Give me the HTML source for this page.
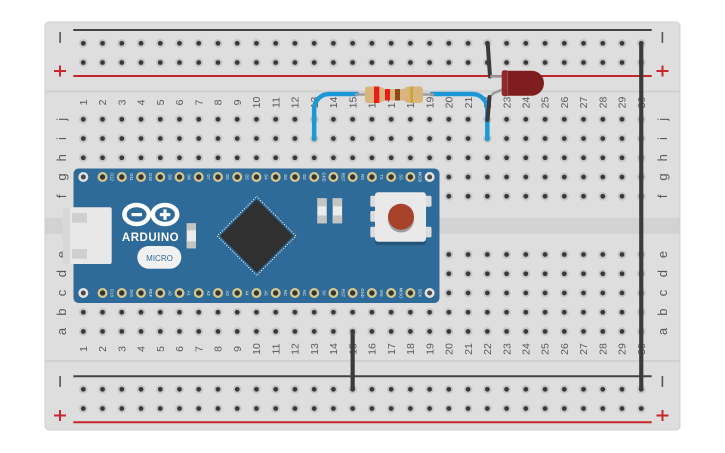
<!DOCTYPE html>
<html><head><meta charset="utf-8"><style>
html,body{margin:0;padding:0;background:#fff;width:725px;height:453px;overflow:hidden}
svg{display:block}
.n{font-family:"Liberation Sans",sans-serif;font-size:10.5px;fill:#5a5a5a;text-anchor:middle}
.l{font-family:"Liberation Sans",sans-serif;font-size:13px;fill:#5a5a5a;text-anchor:middle}
.p{font-family:"Liberation Sans",sans-serif;font-size:4.2px;fill:#e8eef4;text-anchor:middle}
</style></head><body>
<svg width="725" height="453" viewBox="0 0 725 453" xmlns="http://www.w3.org/2000/svg">
<defs>
<pattern id="hp" patternUnits="userSpaceOnUse" x="73.68" y="0" width="19.24" height="19.24">
<circle cx="9.62" cy="9.62" r="4.3" fill="#c6c6c6"/><circle cx="9.62" cy="9.62" r="2.4" fill="#383838"/>
</pattern>
</defs>
<!-- board -->
<rect x="45" y="22" width="635" height="408" rx="4" fill="#dedede" stroke="#cfcfcf"/>
<rect x="45.5" y="218" width="634" height="16" fill="#d2d2d2"/>
<rect x="45.5" y="90.5" width="634" height="2" fill="#d0d0d0"/>
<rect x="45.5" y="360" width="634" height="2" fill="#d0d0d0"/>
<!-- rail lines -->
<line x1="73.3" y1="30" x2="651.7" y2="30" stroke="#444" stroke-width="2"/>
<line x1="73.3" y1="76" x2="651.7" y2="76" stroke="#c3262b" stroke-width="2"/>
<line x1="73.3" y1="376.3" x2="651.7" y2="376.3" stroke="#444" stroke-width="2"/>
<line x1="73.3" y1="422.3" x2="651.7" y2="422.3" stroke="#c3262b" stroke-width="2"/>
<!-- rail signs -->
<rect x="59.3" y="32" width="1.6" height="11" fill="#555"/>
<rect x="661.6" y="32" width="1.6" height="11" fill="#555"/>
<rect x="59.3" y="376" width="1.6" height="11" fill="#555"/>
<rect x="661.6" y="376" width="1.6" height="11" fill="#555"/>
<g stroke="#c8282d" stroke-width="2">
<line x1="54" y1="71" x2="66" y2="71"/><line x1="60" y1="65.5" x2="60" y2="76.5"/>
<line x1="656.5" y1="71" x2="668.5" y2="71"/><line x1="662.5" y1="65.5" x2="662.5" y2="76.5"/>
<line x1="54" y1="415.5" x2="66" y2="415.5"/><line x1="60" y1="410" x2="60" y2="421"/>
<line x1="656.5" y1="415.5" x2="668.5" y2="415.5"/><line x1="662.5" y1="410" x2="662.5" y2="421"/>
</g>
<!-- holes -->
<g transform="translate(0,33.68)"><rect x="73.68" y="0" width="577.2" height="38.48" fill="url(#hp)"/></g>
<g transform="translate(0,109.68)"><rect x="73.68" y="0" width="577.2" height="96.2" fill="url(#hp)"/></g>
<g transform="translate(0,244.88)"><rect x="73.68" y="0" width="577.2" height="96.2" fill="url(#hp)"/></g>
<g transform="translate(0,379.68)"><rect x="73.68" y="0" width="577.2" height="38.48" fill="url(#hp)"/></g>
<!-- column numbers top -->
<g class="n">
<text transform="translate(83.3,102.5) rotate(-90)" dy="0.35em">1</text>
<text transform="translate(102.54,102.5) rotate(-90)" dy="0.35em">2</text>
<text transform="translate(121.78,102.5) rotate(-90)" dy="0.35em">3</text>
<text transform="translate(141.02,102.5) rotate(-90)" dy="0.35em">4</text>
<text transform="translate(160.26,102.5) rotate(-90)" dy="0.35em">5</text>
<text transform="translate(179.5,102.5) rotate(-90)" dy="0.35em">6</text>
<text transform="translate(198.74,102.5) rotate(-90)" dy="0.35em">7</text>
<text transform="translate(217.98,102.5) rotate(-90)" dy="0.35em">8</text>
<text transform="translate(237.22,102.5) rotate(-90)" dy="0.35em">9</text>
<text transform="translate(256.46,102.5) rotate(-90)" dy="0.35em">10</text>
<text transform="translate(275.7,102.5) rotate(-90)" dy="0.35em">11</text>
<text transform="translate(294.94,102.5) rotate(-90)" dy="0.35em">12</text>
<text transform="translate(314.18,102.5) rotate(-90)" dy="0.35em">13</text>
<text transform="translate(333.42,102.5) rotate(-90)" dy="0.35em">14</text>
<text transform="translate(352.66,102.5) rotate(-90)" dy="0.35em">15</text>
<text transform="translate(371.9,102.5) rotate(-90)" dy="0.35em">16</text>
<text transform="translate(391.14,102.5) rotate(-90)" dy="0.35em">17</text>
<text transform="translate(410.38,102.5) rotate(-90)" dy="0.35em">18</text>
<text transform="translate(429.62,102.5) rotate(-90)" dy="0.35em">19</text>
<text transform="translate(448.86,102.5) rotate(-90)" dy="0.35em">20</text>
<text transform="translate(468.1,102.5) rotate(-90)" dy="0.35em">21</text>
<text transform="translate(487.34,102.5) rotate(-90)" dy="0.35em">22</text>
<text transform="translate(506.58,102.5) rotate(-90)" dy="0.35em">23</text>
<text transform="translate(525.82,102.5) rotate(-90)" dy="0.35em">24</text>
<text transform="translate(545.06,102.5) rotate(-90)" dy="0.35em">25</text>
<text transform="translate(564.3,102.5) rotate(-90)" dy="0.35em">26</text>
<text transform="translate(583.54,102.5) rotate(-90)" dy="0.35em">27</text>
<text transform="translate(602.78,102.5) rotate(-90)" dy="0.35em">28</text>
<text transform="translate(622.02,102.5) rotate(-90)" dy="0.35em">29</text>
<text transform="translate(641.26,102.5) rotate(-90)" dy="0.35em">30</text>
</g>
<!-- column numbers bottom -->
<g class="n">
<text transform="translate(83.3,349) rotate(-90)" dy="0.35em">1</text>
<text transform="translate(102.54,349) rotate(-90)" dy="0.35em">2</text>
<text transform="translate(121.78,349) rotate(-90)" dy="0.35em">3</text>
<text transform="translate(141.02,349) rotate(-90)" dy="0.35em">4</text>
<text transform="translate(160.26,349) rotate(-90)" dy="0.35em">5</text>
<text transform="translate(179.5,349) rotate(-90)" dy="0.35em">6</text>
<text transform="translate(198.74,349) rotate(-90)" dy="0.35em">7</text>
<text transform="translate(217.98,349) rotate(-90)" dy="0.35em">8</text>
<text transform="translate(237.22,349) rotate(-90)" dy="0.35em">9</text>
<text transform="translate(256.46,349) rotate(-90)" dy="0.35em">10</text>
<text transform="translate(275.7,349) rotate(-90)" dy="0.35em">11</text>
<text transform="translate(294.94,349) rotate(-90)" dy="0.35em">12</text>
<text transform="translate(314.18,349) rotate(-90)" dy="0.35em">13</text>
<text transform="translate(333.42,349) rotate(-90)" dy="0.35em">14</text>
<text transform="translate(352.66,349) rotate(-90)" dy="0.35em">15</text>
<text transform="translate(371.9,349) rotate(-90)" dy="0.35em">16</text>
<text transform="translate(391.14,349) rotate(-90)" dy="0.35em">17</text>
<text transform="translate(410.38,349) rotate(-90)" dy="0.35em">18</text>
<text transform="translate(429.62,349) rotate(-90)" dy="0.35em">19</text>
<text transform="translate(448.86,349) rotate(-90)" dy="0.35em">20</text>
<text transform="translate(468.1,349) rotate(-90)" dy="0.35em">21</text>
<text transform="translate(487.34,349) rotate(-90)" dy="0.35em">22</text>
<text transform="translate(506.58,349) rotate(-90)" dy="0.35em">23</text>
<text transform="translate(525.82,349) rotate(-90)" dy="0.35em">24</text>
<text transform="translate(545.06,349) rotate(-90)" dy="0.35em">25</text>
<text transform="translate(564.3,349) rotate(-90)" dy="0.35em">26</text>
<text transform="translate(583.54,349) rotate(-90)" dy="0.35em">27</text>
<text transform="translate(602.78,349) rotate(-90)" dy="0.35em">28</text>
<text transform="translate(622.02,349) rotate(-90)" dy="0.35em">29</text>
<text transform="translate(641.26,349) rotate(-90)" dy="0.35em">30</text>
</g>
<!-- row letters -->
<g class="l">
<text transform="translate(66,119.3) rotate(-90)">j</text>
<text transform="translate(66,138.5) rotate(-90)">i</text>
<text transform="translate(66,157.8) rotate(-90)">h</text>
<text transform="translate(66,177) rotate(-90)">g</text>
<text transform="translate(66,196.3) rotate(-90)">f</text>
<text transform="translate(66,254.5) rotate(-90)">e</text>
<text transform="translate(66,273.7) rotate(-90)">d</text>
<text transform="translate(66,293) rotate(-90)">c</text>
<text transform="translate(66,312.2) rotate(-90)">b</text>
<text transform="translate(66,331.5) rotate(-90)">a</text>
<text transform="translate(667,119.3) rotate(-90)">j</text>
<text transform="translate(667,138.5) rotate(-90)">i</text>
<text transform="translate(667,157.8) rotate(-90)">h</text>
<text transform="translate(667,177) rotate(-90)">g</text>
<text transform="translate(667,196.3) rotate(-90)">f</text>
<text transform="translate(667,254.5) rotate(-90)">e</text>
<text transform="translate(667,273.7) rotate(-90)">d</text>
<text transform="translate(667,293) rotate(-90)">c</text>
<text transform="translate(667,312.2) rotate(-90)">b</text>
<text transform="translate(667,331.5) rotate(-90)">a</text>
</g>
<!-- Arduino Micro -->
<rect x="73.5" y="168.5" width="366" height="134.5" rx="5" fill="#2f6b98"/>
<!-- pins -->
<g>
<circle cx="83.3" cy="177" r="5" fill="#e2e2e2"/><circle cx="83.3" cy="177" r="2.5" fill="#4a4a4a"/>
<circle cx="429.62" cy="177" r="5" fill="#e2e2e2"/><circle cx="429.62" cy="177" r="2.5" fill="#4a4a4a"/>
<circle cx="83.3" cy="293" r="5" fill="#e2e2e2"/><circle cx="83.3" cy="293" r="2.5" fill="#4a4a4a"/>
<circle cx="429.62" cy="293" r="5" fill="#e2e2e2"/><circle cx="429.62" cy="293" r="2.5" fill="#4a4a4a"/>
</g>
<g fill="#d4c68f">
<circle cx="102.54" cy="177" r="5"/><circle cx="121.78" cy="177" r="5"/><circle cx="141.02" cy="177" r="5"/><circle cx="160.26" cy="177" r="5"/><circle cx="179.5" cy="177" r="5"/><circle cx="198.74" cy="177" r="5"/><circle cx="217.98" cy="177" r="5"/><circle cx="237.22" cy="177" r="5"/><circle cx="256.46" cy="177" r="5"/><circle cx="275.7" cy="177" r="5"/><circle cx="294.94" cy="177" r="5"/><circle cx="314.18" cy="177" r="5"/><circle cx="333.42" cy="177" r="5"/><circle cx="352.66" cy="177" r="5"/><circle cx="371.9" cy="177" r="5"/><circle cx="391.14" cy="177" r="5"/><circle cx="410.38" cy="177" r="5"/>
<circle cx="102.54" cy="293" r="5"/><circle cx="121.78" cy="293" r="5"/><circle cx="141.02" cy="293" r="5"/><circle cx="160.26" cy="293" r="5"/><circle cx="179.5" cy="293" r="5"/><circle cx="198.74" cy="293" r="5"/><circle cx="217.98" cy="293" r="5"/><circle cx="237.22" cy="293" r="5"/><circle cx="256.46" cy="293" r="5"/><circle cx="275.7" cy="293" r="5"/><circle cx="294.94" cy="293" r="5"/><circle cx="314.18" cy="293" r="5"/><circle cx="333.42" cy="293" r="5"/><circle cx="352.66" cy="293" r="5"/><circle cx="371.9" cy="293" r="5"/><circle cx="391.14" cy="293" r="5"/><circle cx="410.38" cy="293" r="5"/>
</g>
<g fill="#333">
<circle cx="102.54" cy="177" r="2.7"/><circle cx="121.78" cy="177" r="2.7"/><circle cx="141.02" cy="177" r="2.7"/><circle cx="160.26" cy="177" r="2.7"/><circle cx="179.5" cy="177" r="2.7"/><circle cx="198.74" cy="177" r="2.7"/><circle cx="217.98" cy="177" r="2.7"/><circle cx="237.22" cy="177" r="2.7"/><circle cx="256.46" cy="177" r="2.7"/><circle cx="275.7" cy="177" r="2.7"/><circle cx="294.94" cy="177" r="2.7"/><circle cx="314.18" cy="177" r="2.7"/><circle cx="333.42" cy="177" r="2.7"/><circle cx="352.66" cy="177" r="2.7"/><circle cx="371.9" cy="177" r="2.7"/><circle cx="391.14" cy="177" r="2.7"/><circle cx="410.38" cy="177" r="2.7"/>
<circle cx="102.54" cy="293" r="2.7"/><circle cx="121.78" cy="293" r="2.7"/><circle cx="141.02" cy="293" r="2.7"/><circle cx="160.26" cy="293" r="2.7"/><circle cx="179.5" cy="293" r="2.7"/><circle cx="198.74" cy="293" r="2.7"/><circle cx="217.98" cy="293" r="2.7"/><circle cx="237.22" cy="293" r="2.7"/><circle cx="256.46" cy="293" r="2.7"/><circle cx="275.7" cy="293" r="2.7"/><circle cx="294.94" cy="293" r="2.7"/><circle cx="314.18" cy="293" r="2.7"/><circle cx="333.42" cy="293" r="2.7"/><circle cx="352.66" cy="293" r="2.7"/><circle cx="371.9" cy="293" r="2.7"/><circle cx="391.14" cy="293" r="2.7"/><circle cx="410.38" cy="293" r="2.7"/>
</g>
<!-- pin labels -->
<g class="p">
<text transform="translate(112.16,177) rotate(90)" dy="0.35em">D12</text>
<text transform="translate(131.4,177) rotate(90)" dy="0.35em">D11</text>
<text transform="translate(150.64,177) rotate(90)" dy="0.35em">D10</text>
<text transform="translate(169.88,177) rotate(90)" dy="0.35em">D9</text>
<text transform="translate(189.12,177) rotate(90)" dy="0.35em">D8</text>
<text transform="translate(208.36,177) rotate(90)" dy="0.35em">D7</text>
<text transform="translate(227.6,177) rotate(90)" dy="0.35em">D6</text>
<text transform="translate(246.84,177) rotate(90)" dy="0.35em">D5</text>
<text transform="translate(266.08,177) rotate(90)" dy="0.35em">D4</text>
<text transform="translate(285.32,177) rotate(90)" dy="0.35em">D3</text>
<text transform="translate(304.56,177) rotate(90)" dy="0.35em">D2</text>
<text transform="translate(323.8,177) rotate(90)" dy="0.35em">GND</text>
<text transform="translate(343.04,177) rotate(90)" dy="0.35em">RST</text>
<text transform="translate(362.28,177) rotate(90)" dy="0.35em">RX</text>
<text transform="translate(381.52,177) rotate(90)" dy="0.35em">TX</text>
<text transform="translate(400.76,177) rotate(90)" dy="0.35em">SS</text>
<text transform="translate(420,177) rotate(90)" dy="0.35em">MOSI</text>
<text transform="translate(112.16,293) rotate(90)" dy="0.35em">D13</text>
<text transform="translate(131.4,293) rotate(90)" dy="0.35em">3V3</text>
<text transform="translate(150.64,293) rotate(90)" dy="0.35em">REF</text>
<text transform="translate(169.88,293) rotate(90)" dy="0.35em">A0</text>
<text transform="translate(189.12,293) rotate(90)" dy="0.35em">A1</text>
<text transform="translate(208.36,293) rotate(90)" dy="0.35em">A2</text>
<text transform="translate(227.6,293) rotate(90)" dy="0.35em">A3</text>
<text transform="translate(246.84,293) rotate(90)" dy="0.35em">A4</text>
<text transform="translate(266.08,293) rotate(90)" dy="0.35em">A5</text>
<text transform="translate(285.32,293) rotate(90)" dy="0.35em">NC</text>
<text transform="translate(304.56,293) rotate(90)" dy="0.35em">NC</text>
<text transform="translate(323.8,293) rotate(90)" dy="0.35em">5V</text>
<text transform="translate(343.04,293) rotate(90)" dy="0.35em">RST</text>
<text transform="translate(362.28,293) rotate(90)" dy="0.35em">GND</text>
<text transform="translate(381.52,293) rotate(90)" dy="0.35em">VIN</text>
<text transform="translate(400.76,293) rotate(90)" dy="0.35em">MISO</text>
<text transform="translate(420,293) rotate(90)" dy="0.35em">SCK</text>
</g>
<!-- USB connector -->
<rect x="62.7" y="208" width="12" height="55.5" rx="2" fill="#d8d8d8"/>
<rect x="70" y="207.3" width="41.7" height="56.7" rx="2" fill="#e8e8e8"/>
<rect x="72" y="213" width="15" height="9.7" fill="#cfcfcf"/>
<rect x="72" y="249" width="15" height="9.7" fill="#cfcfcf"/>
<!-- logo -->
<ellipse cx="136.6" cy="214.5" rx="12.2" ry="9.5" fill="none" stroke="#fff" stroke-width="4.5"/>
<ellipse cx="165" cy="214.5" rx="12.2" ry="9.5" fill="none" stroke="#fff" stroke-width="4.5"/>
<rect x="131.5" y="213" width="10.5" height="3.2" fill="#fff"/>
<rect x="159.8" y="213" width="10.5" height="3.2" fill="#fff"/>
<rect x="163.4" y="209.4" width="3.2" height="10.4" fill="#fff"/>
<text x="150.5" y="241.2" font-family="Liberation Sans,sans-serif" font-size="11.5" font-weight="bold" fill="#fff" text-anchor="middle" letter-spacing="0.5">ARDUINO</text>
<rect x="137.3" y="246" width="44" height="22.7" rx="11.3" fill="#f1f1f1"/>
<text x="159.5" y="260.8" font-family="Liberation Sans,sans-serif" font-size="8" fill="#2f6b98" text-anchor="middle">MICRO</text>
<!-- small component near logo -->
<rect x="186.7" y="223.3" width="9.3" height="25" fill="#ebebeb"/>
<rect x="186.7" y="223.3" width="9.3" height="7" fill="#c4c4c4"/>
<rect x="186.7" y="241.3" width="9.3" height="7" fill="#c4c4c4"/>
<!-- chip -->
<polygon points="256.7,199.3 293.3,236 256.7,272.7 220,236" fill="#303030"/>
<polygon points="256.7,196.5 296.1,236 256.7,275.5 217.2,236" fill="none" stroke="#fff" stroke-width="1" stroke-dasharray="1,1.6"/>
<!-- small caps -->
<rect x="317.3" y="198.3" width="9.4" height="25" fill="#ececec"/>
<rect x="317.3" y="198.3" width="9.4" height="8" fill="#c4c4c4"/>
<rect x="317.3" y="215.5" width="9.4" height="7.8" fill="#c4c4c4"/>
<rect x="332.7" y="198.3" width="9.4" height="25" fill="#ececec"/>
<rect x="332.7" y="198.3" width="9.4" height="8" fill="#c4c4c4"/>
<rect x="332.7" y="215.5" width="9.4" height="7.8" fill="#c4c4c4"/>
<!-- reset button -->
<g fill="#dcdcdc">
<rect x="370.3" y="195.7" width="6" height="11" rx="1.5"/>
<rect x="370.3" y="211" width="6" height="10.7" rx="1.5"/>
<rect x="370.3" y="226.7" width="6" height="10.7" rx="1.5"/>
<rect x="425" y="195.7" width="6.5" height="11" rx="1.5"/>
<rect x="425" y="226.7" width="6.5" height="10.7" rx="1.5"/>
</g>
<rect x="375" y="195.5" width="51" height="49.5" rx="3" fill="#245578"/>
<rect x="375" y="192.3" width="51" height="49.4" rx="3" fill="#e9e9e9"/>
<circle cx="401" cy="219.5" r="13" fill="#9c9c9c"/>
<circle cx="401" cy="216.7" r="13" fill="#a8432b"/>
<!-- long wires -->
<line x1="641.26" y1="43.3" x2="641.26" y2="389.3" stroke="#3b3b3b" stroke-width="4.2" stroke-linecap="round"/>
<line x1="352.66" y1="331.5" x2="352.66" y2="389.3" stroke="#3b3b3b" stroke-width="4.2" stroke-linecap="round"/>
<!-- blue wires -->
<path d="M314.18 139 V109 A15 15 0 0 1 329.18 94 H357" fill="none" stroke="#1d98d7" stroke-width="4.5" stroke-linecap="round"/>
<path d="M432 94 H472.34 A15 15 0 0 1 487.34 109 V139" fill="none" stroke="#1d98d7" stroke-width="4.5" stroke-linecap="round"/>
<!-- resistor -->
<line x1="355" y1="94.5" x2="368" y2="94.5" stroke="#9e9e9e" stroke-width="2.5"/>
<line x1="420" y1="94.5" x2="434" y2="94.5" stroke="#9e9e9e" stroke-width="2.5"/>
<path d="M368,86.5 H378 Q382,86.5 384,89 H404 Q406,86.5 410,86.5 H420 Q423,86.5 423,90 V99.5 Q423,103 420,103 H410 Q406,103 404,100.5 H384 Q382,103 378,103 H368 Q365,103 365,99.5 V90 Q365,86.5 368,86.5 Z" fill="#d9b47c"/>
<rect x="374" y="86.5" width="5.3" height="16.5" fill="#e81c1c"/>
<rect x="385" y="89" width="5" height="11.5" fill="#e81c1c"/>
<rect x="395" y="89" width="5" height="11.5" fill="#8b4a17"/>
<rect x="410.5" y="86.5" width="2.2" height="16.5" fill="#c9a227"/>
<!-- LED legs & black wires -->
<line x1="487.7" y1="43.3" x2="490" y2="76.5" stroke="#3a3a3a" stroke-width="4" stroke-linecap="round"/>
<line x1="490" y1="76.5" x2="504" y2="76.5" stroke="#9a9a9a" stroke-width="2.5"/>
<polyline points="504,89 494,93 489.5,97" fill="none" stroke="#9a9a9a" stroke-width="2.5"/>
<line x1="489.5" y1="97" x2="487.5" y2="120" stroke="#3a3a3a" stroke-width="4" stroke-linecap="round"/>
<!-- LED -->
<path d="M506,70.7 H531.5 A12.5 12.5 0 0 1 531.5 95.7 H506 Z" fill="#7e1e21"/>
<rect x="501.7" y="70.2" width="6.5" height="26" rx="2.5" fill="#8d2a2c"/>
<line x1="507.5" y1="72" x2="507.5" y2="94.5" stroke="#a04a4b" stroke-width="1"/>
</svg>
</body></html>
